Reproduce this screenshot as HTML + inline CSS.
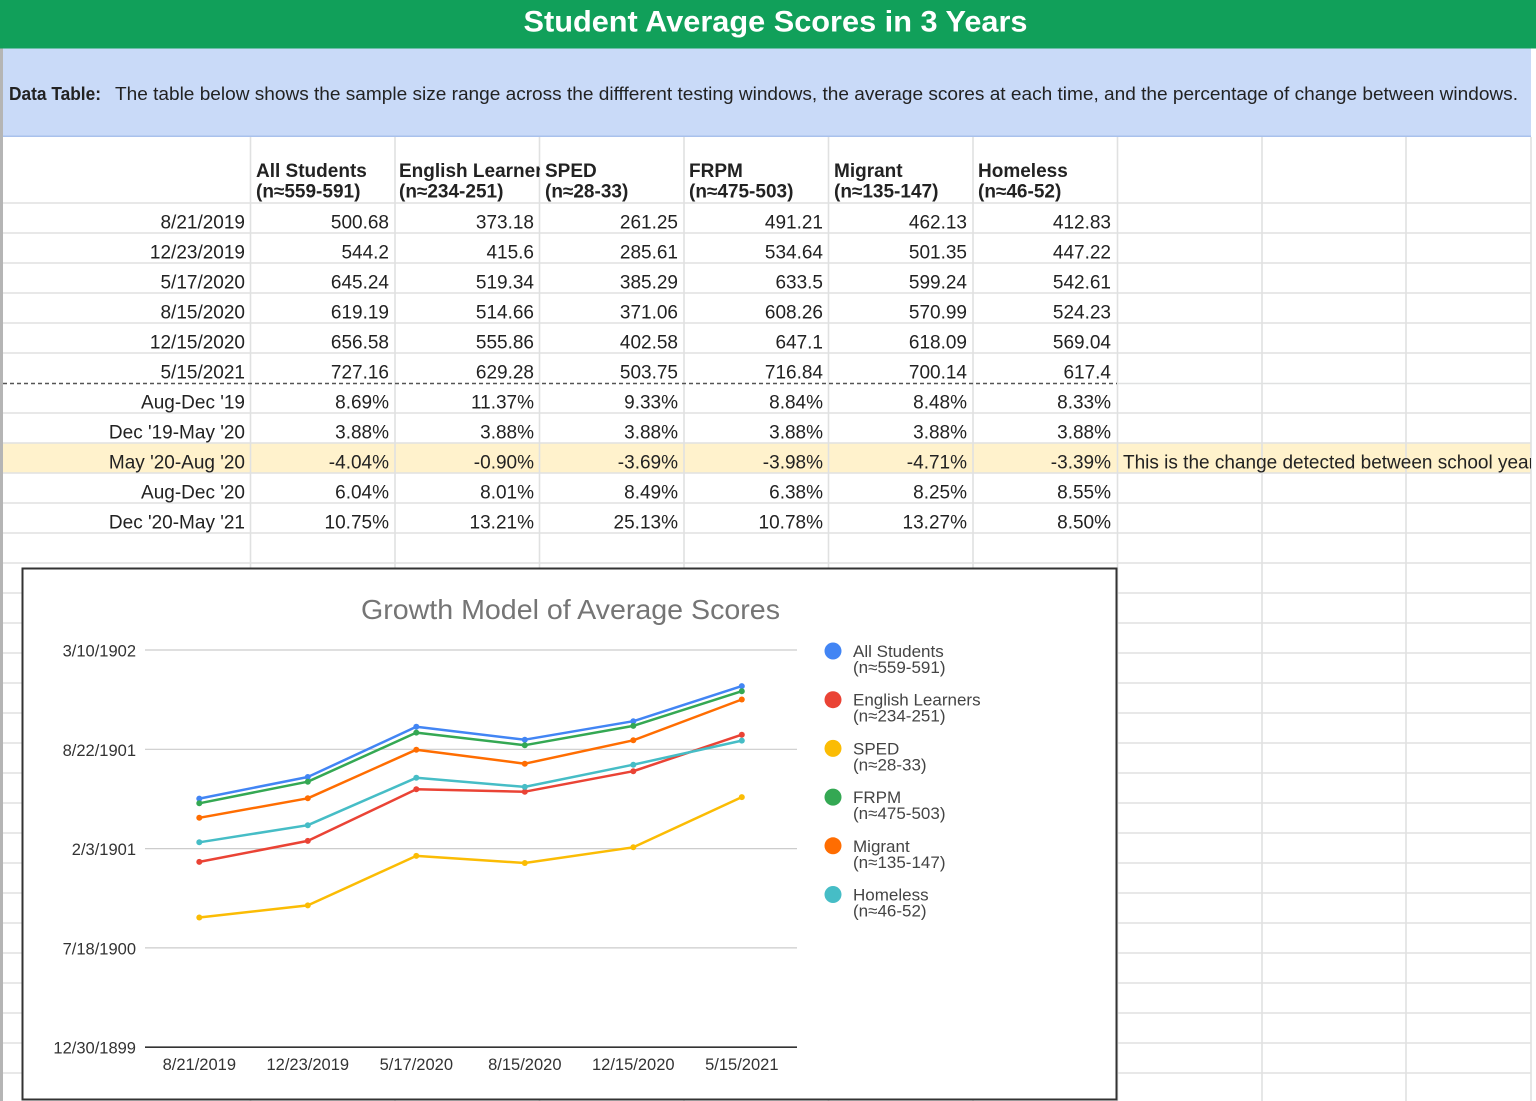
<!DOCTYPE html>
<html><head><meta charset="utf-8"><style>
html,body{margin:0;padding:0;background:#fff;}
svg{display:block;}
text{font-family:"Liberation Sans",Arial,sans-serif;}
</style></head><body>
<svg width="1536" height="1101" viewBox="0 0 1536 1101" xmlns="http://www.w3.org/2000/svg">
<defs>
<clipPath id="cC"><rect x="395" y="137" width="145" height="66"/></clipPath>
<clipPath id="cR"><rect x="1118" y="443" width="413" height="30"/></clipPath>
</defs>
<rect x="0" y="0" width="1536" height="1101" fill="#fff"/>
<!-- header -->
<rect x="0" y="0" width="1536" height="48.5" fill="#11a05a"/>
<text x="523.5" y="31.5" font-size="30" font-weight="bold" fill="#fff" textLength="504" lengthAdjust="spacingAndGlyphs">Student Average Scores in 3 Years</text>
<!-- left bar -->
<rect x="0" y="48.5" width="3" height="1053" fill="#b5b5b5"/>
<!-- blue band -->
<rect x="3" y="48.5" width="1528" height="88" fill="#c9daf8"/>
<rect x="3" y="135.5" width="1528" height="1.5" fill="#a9c1ec"/>
<text x="9" y="100" font-size="18.5" font-weight="bold" fill="#222" textLength="92" lengthAdjust="spacingAndGlyphs">Data Table:</text>
<text x="115" y="100" font-size="18.5" fill="#222" textLength="1403" lengthAdjust="spacingAndGlyphs">The table below shows the sample size range across the diffferent testing windows, the average scores at each time, and the percentage of change between windows.</text>
<!-- highlight row -->
<rect x="3" y="443" width="1528" height="30" fill="#fff2cc"/>
<!-- grid -->
<g stroke="#e0e1e1" stroke-width="1.6">
<line x1="3" y1="203" x2="1531" y2="203"/>
<line x1="3" y1="233" x2="1531" y2="233"/>
<line x1="3" y1="263" x2="1531" y2="263"/>
<line x1="3" y1="293" x2="1531" y2="293"/>
<line x1="3" y1="323" x2="1531" y2="323"/>
<line x1="3" y1="353" x2="1531" y2="353"/>
<line x1="1117" y1="383.5" x2="1531" y2="383.5"/>
<line x1="3" y1="413" x2="1531" y2="413"/>
<line x1="3" y1="443" x2="1531" y2="443"/>
<line x1="3" y1="473" x2="1531" y2="473"/>
<line x1="3" y1="503" x2="1531" y2="503"/>
<line x1="3" y1="533" x2="1531" y2="533"/>
<line x1="3" y1="563" x2="1531" y2="563"/>
<line x1="3" y1="593" x2="1531" y2="593"/>
<line x1="3" y1="623" x2="1531" y2="623"/>
<line x1="3" y1="653" x2="1531" y2="653"/>
<line x1="3" y1="683" x2="1531" y2="683"/>
<line x1="3" y1="713" x2="1531" y2="713"/>
<line x1="3" y1="743" x2="1531" y2="743"/>
<line x1="3" y1="773" x2="1531" y2="773"/>
<line x1="3" y1="803" x2="1531" y2="803"/>
<line x1="3" y1="833" x2="1531" y2="833"/>
<line x1="3" y1="863" x2="1531" y2="863"/>
<line x1="3" y1="893" x2="1531" y2="893"/>
<line x1="3" y1="923" x2="1531" y2="923"/>
<line x1="3" y1="953" x2="1531" y2="953"/>
<line x1="3" y1="983" x2="1531" y2="983"/>
<line x1="3" y1="1013" x2="1531" y2="1013"/>
<line x1="3" y1="1043" x2="1531" y2="1043"/>
<line x1="3" y1="1073" x2="1531" y2="1073"/>
<line x1="250.5" y1="137" x2="250.5" y2="1101"/>
<line x1="395" y1="137" x2="395" y2="1101"/>
<line x1="539.5" y1="137" x2="539.5" y2="1101"/>
<line x1="684" y1="137" x2="684" y2="1101"/>
<line x1="828.5" y1="137" x2="828.5" y2="1101"/>
<line x1="973" y1="137" x2="973" y2="1101"/>
<line x1="1117.5" y1="137" x2="1117.5" y2="1101"/>
<line x1="1262" y1="137" x2="1262" y2="1101"/>
<line x1="1406" y1="137" x2="1406" y2="1101"/>
<line x1="1531" y1="137" x2="1531" y2="1101"/>
</g>
<line x1="3" y1="383.5" x2="1117" y2="383.5" stroke="#555" stroke-width="1.5" stroke-dasharray="4 3"/>
<!-- table header -->
<g font-size="19" font-weight="bold" fill="#222">
<text x="256" y="177">All Students</text><text x="256" y="197.5">(n≈559-591)</text>
<g clip-path="url(#cC)"><text x="399" y="177">English Learners</text><text x="399" y="197.5">(n≈234-251)</text></g>
<text x="545" y="177">SPED</text><text x="545" y="197.5">(n≈28-33)</text>
<text x="689" y="177">FRPM</text><text x="689" y="197.5">(n≈475-503)</text>
<text x="834" y="177">Migrant</text><text x="834" y="197.5">(n≈135-147)</text>
<text x="978" y="177">Homeless</text><text x="978" y="197.5">(n≈46-52)</text>
</g>
<!-- table body -->
<g font-size="19" fill="#222" text-anchor="end">
<g>
<text x="245" y="228.5">8/21/2019</text><text x="389" y="228.5">500.68</text><text x="534" y="228.5">373.18</text><text x="678" y="228.5">261.25</text><text x="823" y="228.5">491.21</text><text x="967" y="228.5">462.13</text><text x="1111" y="228.5">412.83</text>
</g>
<g>
<text x="245" y="258.5">12/23/2019</text><text x="389" y="258.5">544.2</text><text x="534" y="258.5">415.6</text><text x="678" y="258.5">285.61</text><text x="823" y="258.5">534.64</text><text x="967" y="258.5">501.35</text><text x="1111" y="258.5">447.22</text>
</g>
<g>
<text x="245" y="288.5">5/17/2020</text><text x="389" y="288.5">645.24</text><text x="534" y="288.5">519.34</text><text x="678" y="288.5">385.29</text><text x="823" y="288.5">633.5</text><text x="967" y="288.5">599.24</text><text x="1111" y="288.5">542.61</text>
</g>
<g>
<text x="245" y="318.5">8/15/2020</text><text x="389" y="318.5">619.19</text><text x="534" y="318.5">514.66</text><text x="678" y="318.5">371.06</text><text x="823" y="318.5">608.26</text><text x="967" y="318.5">570.99</text><text x="1111" y="318.5">524.23</text>
</g>
<g>
<text x="245" y="348.5">12/15/2020</text><text x="389" y="348.5">656.58</text><text x="534" y="348.5">555.86</text><text x="678" y="348.5">402.58</text><text x="823" y="348.5">647.1</text><text x="967" y="348.5">618.09</text><text x="1111" y="348.5">569.04</text>
</g>
<g>
<text x="245" y="378.5">5/15/2021</text><text x="389" y="378.5">727.16</text><text x="534" y="378.5">629.28</text><text x="678" y="378.5">503.75</text><text x="823" y="378.5">716.84</text><text x="967" y="378.5">700.14</text><text x="1111" y="378.5">617.4</text>
</g>
<g>
<text x="245" y="408.5">Aug-Dec '19</text><text x="389" y="408.5">8.69%</text><text x="534" y="408.5">11.37%</text><text x="678" y="408.5">9.33%</text><text x="823" y="408.5">8.84%</text><text x="967" y="408.5">8.48%</text><text x="1111" y="408.5">8.33%</text>
</g>
<g>
<text x="245" y="438.5">Dec '19-May '20</text><text x="389" y="438.5">3.88%</text><text x="534" y="438.5">3.88%</text><text x="678" y="438.5">3.88%</text><text x="823" y="438.5">3.88%</text><text x="967" y="438.5">3.88%</text><text x="1111" y="438.5">3.88%</text>
</g>
<g>
<text x="245" y="468.5">May '20-Aug '20</text><text x="389" y="468.5">-4.04%</text><text x="534" y="468.5">-0.90%</text><text x="678" y="468.5">-3.69%</text><text x="823" y="468.5">-3.98%</text><text x="967" y="468.5">-4.71%</text><text x="1111" y="468.5">-3.39%</text>
</g>
<g>
<text x="245" y="498.5">Aug-Dec '20</text><text x="389" y="498.5">6.04%</text><text x="534" y="498.5">8.01%</text><text x="678" y="498.5">8.49%</text><text x="823" y="498.5">6.38%</text><text x="967" y="498.5">8.25%</text><text x="1111" y="498.5">8.55%</text>
</g>
<g>
<text x="245" y="528.5">Dec '20-May '21</text><text x="389" y="528.5">10.75%</text><text x="534" y="528.5">13.21%</text><text x="678" y="528.5">25.13%</text><text x="823" y="528.5">10.78%</text><text x="967" y="528.5">13.27%</text><text x="1111" y="528.5">8.50%</text>
</g>
</g>
<g clip-path="url(#cR)"><text x="1123" y="468.5" font-size="19" fill="#222">This is the change detected between school year</text></g>

<!-- chart -->
<rect x="22.5" y="568.5" width="1094" height="531" fill="#fff" stroke="#333" stroke-width="2"/>
<text x="570.5" y="619" font-size="28" fill="#757575" text-anchor="middle" textLength="419" lengthAdjust="spacingAndGlyphs">Growth Model of Average Scores</text>
<g stroke="#cccccc" stroke-width="1.2">
<line x1="145" y1="650" x2="797" y2="650"/>
<line x1="145" y1="749.3" x2="797" y2="749.3"/>
<line x1="145" y1="848.6" x2="797" y2="848.6"/>
<line x1="145" y1="947.9" x2="797" y2="947.9"/>
</g>
<line x1="145" y1="1047.2" x2="797" y2="1047.2" stroke="#333" stroke-width="1.6"/>
<g font-size="16.5" fill="#333" text-anchor="end">
<text x="136" y="656.5">3/10/1902</text>
<text x="136" y="755.8">8/22/1901</text>
<text x="136" y="855.1">2/3/1901</text>
<text x="136" y="954.4">7/18/1900</text>
<text x="136" y="1053.7">12/30/1899</text>
</g>
<g font-size="16.5" fill="#333" text-anchor="middle">
<text x="199.3" y="1070">8/21/2019</text>
<text x="307.8" y="1070">12/23/2019</text>
<text x="416.3" y="1070">5/17/2020</text>
<text x="524.8" y="1070">8/15/2020</text>
<text x="633.3" y="1070">12/15/2020</text>
<text x="741.8" y="1070">5/15/2021</text>
</g>
<g fill="none" stroke-width="2.5" stroke-linejoin="round">
<polyline stroke="#4285f4" points="199.3,798.6 307.8,777.0 416.3,726.8 524.8,739.7 633.3,721.2 741.8,686.1"/>
<polyline stroke="#ea4335" points="199.3,861.9 307.8,840.9 416.3,789.3 524.8,791.7 633.3,771.2 741.8,734.7"/>
<polyline stroke="#fbbc04" points="199.3,917.5 307.8,905.4 416.3,855.9 524.8,863.0 633.3,847.3 741.8,797.1"/>
<polyline stroke="#34a853" points="199.3,803.3 307.8,781.7 416.3,732.6 524.8,745.2 633.3,725.9 741.8,691.2"/>
<polyline stroke="#ff6d01" points="199.3,817.8 307.8,798.3 416.3,749.7 524.8,763.7 633.3,740.3 741.8,699.5"/>
<polyline stroke="#46bdc6" points="199.3,842.3 307.8,825.2 416.3,777.8 524.8,786.9 633.3,764.7 741.8,740.6"/>
</g>
<g>
<g fill="#4285f4"><circle cx="199.3" cy="798.6" r="3"/><circle cx="307.8" cy="777.0" r="3"/><circle cx="416.3" cy="726.8" r="3"/><circle cx="524.8" cy="739.7" r="3"/><circle cx="633.3" cy="721.2" r="3"/><circle cx="741.8" cy="686.1" r="3"/></g>
<g fill="#ea4335"><circle cx="199.3" cy="861.9" r="3"/><circle cx="307.8" cy="840.9" r="3"/><circle cx="416.3" cy="789.3" r="3"/><circle cx="524.8" cy="791.7" r="3"/><circle cx="633.3" cy="771.2" r="3"/><circle cx="741.8" cy="734.7" r="3"/></g>
<g fill="#fbbc04"><circle cx="199.3" cy="917.5" r="3"/><circle cx="307.8" cy="905.4" r="3"/><circle cx="416.3" cy="855.9" r="3"/><circle cx="524.8" cy="863.0" r="3"/><circle cx="633.3" cy="847.3" r="3"/><circle cx="741.8" cy="797.1" r="3"/></g>
<g fill="#34a853"><circle cx="199.3" cy="803.3" r="3"/><circle cx="307.8" cy="781.7" r="3"/><circle cx="416.3" cy="732.6" r="3"/><circle cx="524.8" cy="745.2" r="3"/><circle cx="633.3" cy="725.9" r="3"/><circle cx="741.8" cy="691.2" r="3"/></g>
<g fill="#ff6d01"><circle cx="199.3" cy="817.8" r="3"/><circle cx="307.8" cy="798.3" r="3"/><circle cx="416.3" cy="749.7" r="3"/><circle cx="524.8" cy="763.7" r="3"/><circle cx="633.3" cy="740.3" r="3"/><circle cx="741.8" cy="699.5" r="3"/></g>
<g fill="#46bdc6"><circle cx="199.3" cy="842.3" r="3"/><circle cx="307.8" cy="825.2" r="3"/><circle cx="416.3" cy="777.8" r="3"/><circle cx="524.8" cy="786.9" r="3"/><circle cx="633.3" cy="764.7" r="3"/><circle cx="741.8" cy="740.6" r="3"/></g>
</g>
<!-- legend -->
<g font-size="17" fill="#444">
<circle cx="833" cy="651" r="8.5" fill="#4285f4"/>
<text x="853" y="657">All Students</text><text x="853" y="673">(n≈559-591)</text>
<circle cx="833" cy="699.7" r="8.5" fill="#ea4335"/>
<text x="853" y="705.7">English Learners</text><text x="853" y="721.7">(n≈234-251)</text>
<circle cx="833" cy="748.4" r="8.5" fill="#fbbc04"/>
<text x="853" y="754.4">SPED</text><text x="853" y="770.4">(n≈28-33)</text>
<circle cx="833" cy="797.1" r="8.5" fill="#34a853"/>
<text x="853" y="803.1">FRPM</text><text x="853" y="819.1">(n≈475-503)</text>
<circle cx="833" cy="845.8" r="8.5" fill="#ff6d01"/>
<text x="853" y="851.8">Migrant</text><text x="853" y="867.8">(n≈135-147)</text>
<circle cx="833" cy="894.5" r="8.5" fill="#46bdc6"/>
<text x="853" y="900.5">Homeless</text><text x="853" y="916.5">(n≈46-52)</text>
</g>
</svg>
</body></html>
